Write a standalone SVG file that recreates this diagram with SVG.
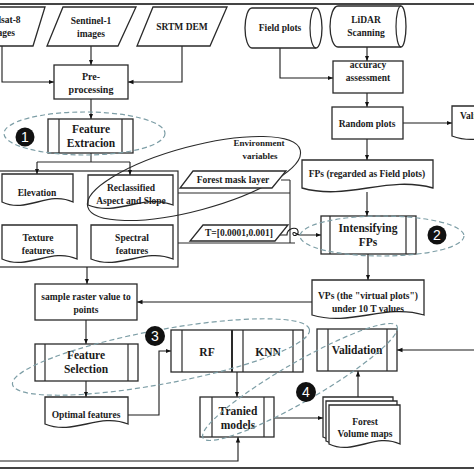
<svg xmlns="http://www.w3.org/2000/svg" width="474" height="474" viewBox="0 0 474 474">
<defs>
<marker id="ah" viewBox="0 0 10 10" refX="10" refY="5" markerWidth="5" markerHeight="5" orient="auto"><path d="M0,1 L10,5 L0,9 z" fill="#111"/></marker>
<style>
.b{fill:#fff;stroke:#2a2a2a;stroke-width:1.3}
.l{fill:none;stroke:#2a2a2a;stroke-width:1.2}
.c{fill:none;stroke:#2a2a2a;stroke-width:1.1}
.a{fill:none;stroke:#1a1a1a;stroke-width:1.1;marker-end:url(#ah)}
.e{fill:none;stroke:#7d9ea6;stroke-width:1.2;stroke-dasharray:5 3}
.t{font-family:"Liberation Serif","Times New Roman",serif;font-weight:bold;font-size:9.5px;fill:#1a1a1a;text-anchor:middle}
.tl{font-size:11.5px}
.n{fill:#111}
.nt{font-family:"Liberation Sans",Arial,sans-serif;font-size:14px;fill:#fff;text-anchor:middle}
.rule{stroke:#444;stroke-width:2}
</style>
</defs>
<rect width="474" height="474" fill="#fff"/>
<line class="rule" x1="0" y1="4" x2="474" y2="4"/>
<line class="rule" x1="0" y1="468" x2="474" y2="468"/>

<g id="feature-frame"><rect class="l" x="-1" y="171" width="179" height="96"/></g>

<g id="connectors">
<path class="a" d="M2,46 V82 H54"/>
<path class="a" d="M91,46 V65"/>
<path class="a" d="M182,46 V82 H128"/>
<path class="a" d="M91,99 V119"/>
<path class="c" d="M91,153 V162 M37,162 H130"/>
<path class="a" d="M37,162 V174"/>
<path class="a" d="M130,162 V175"/>
<path class="a" d="M87,267 V284"/>
<path class="c" d="M281,180 H290 M178,193 H290 M178,243 H295 M290,180 V243"/>
<path class="a" d="M280,235 H287 C287,228 297,226 298,231 C299,236 292,237 293,233 C294,231 297,235 300,235 H321"/>
<path class="a" d="M280,48 V78 H333"/>
<path class="a" d="M367,47 V61"/>
<path class="a" d="M367,93 V107"/>
<path class="a" d="M367,139 V160"/>
<path class="a" d="M403,123 H452"/>
<path class="a" d="M367,192 V216"/>
<path class="a" d="M368,254 V280"/>
<path class="a" d="M312,302 H137"/>
<path class="a" d="M86,320 V344"/>
<path class="a" d="M86,381 V397"/>
<path class="a" d="M128,415 H159 V351 H171"/>
<path class="a" d="M237,372 V397"/>
<path class="a" d="M274,418 H323"/>
<path class="a" d="M358,397 V371"/>
<path class="a" d="M474,350 H397"/>
<path class="a" d="M0,461 H238 V437"/>
</g>

<g id="landsat"><polygon class="b" points="-40,7 45,7 33,46 -50,46"/><text class="t" x="0" y="23">Landsat-8</text><text class="t" x="1" y="36">images</text></g>
<g id="sentinel"><polygon class="b" points="63,7 136,7 118,46 47,46"/><text class="t" x="91" y="24">Sentinel-1</text><text class="t" x="91" y="37">images</text></g>
<g id="srtm"><polygon class="b" points="153,7 227,7 210,46 137,46"/><text class="t" x="182" y="30">SRTM DEM</text></g>
<g id="preprocessing"><rect class="b" x="54" y="65" width="74" height="34"/><text class="t" x="91" y="80" style="font-size:10px">Pre-</text><text class="t" x="91" y="93" style="font-size:10px">processing</text></g>

<g id="feature-extraction"><rect class="b" x="48" y="119" width="85" height="34"/><path class="l" d="M59,119 V153 M122,119 V153"/><text class="t tl" x="91" y="133">Feature</text><text class="t tl" x="91" y="147">Extracion</text></g>

<g id="elevation"><path class="b" d="M2,174 H73 V202 C48,190 27,214 2,202 Z"/><text class="t" x="37" y="196">Elevation</text></g>
<g id="reclassified"><path class="b" d="M88,175 H173 V205 C143,193 118,217 88,205 Z"/><text class="t" x="131" y="191">Reclassified</text><text class="t" x="131" y="204">Aspect and Slope</text></g>
<g id="texture"><path class="b" d="M2,225 H77 V259 C51,247 28,271 2,259 Z"/><text class="t" x="38" y="241">Texture</text><text class="t" x="38" y="254">features</text></g>
<g id="spectral"><path class="b" d="M91,225 H173 V259 C144,247 120,271 91,259 Z"/><text class="t" x="132" y="241">Spectral</text><text class="t" x="132" y="254">features</text></g>

<g id="environment-variables"><ellipse class="c" cx="194" cy="178.5" rx="110" ry="32" transform="rotate(-15 194 178.5)"/><text class="t" x="259" y="146" style="font-size:9px">Environment</text><text class="t" x="260" y="159" style="font-size:9px">variables</text></g>
<g id="forest-mask"><polygon class="b" points="193,171 286,171 272,188 180,188"/><text class="t" x="233" y="183">Forest mask layer</text></g>
<g id="threshold"><polygon class="b" points="203,225 288,225 275,241 190,241"/><text class="t" x="239" y="236">T=[0.0001,0.001]</text></g>

<g id="field-plots"><path class="b" d="M252,8 H316 A6,20 0 0 1 316,48 H252 A7,20 0 0 1 252,8 Z"/><path class="l" d="M316,8 A6,20 0 0 0 316,48"/><text class="t" x="280" y="31">Field plots</text></g>
<g id="lidar"><path class="b" d="M338,6 H401 A5,20.5 0 0 1 401,47 H338 A8,20.5 0 0 1 338,6 Z"/><path class="l" d="M401,6 A5,20.5 0 0 0 401,47"/><text class="t" x="366" y="23">LiDAR</text><text class="t" x="366" y="36">Scanning</text></g>
<g id="accuracy"><rect class="b" x="333" y="61" width="70" height="32"/><text class="t" x="368" y="68">accuracy</text><text class="t" x="368" y="81">assessment</text></g>
<g id="random-plots"><rect class="b" x="332" y="107" width="71" height="32"/><text class="t" x="367" y="127">Random plots</text></g>
<g id="validation-plots"><path class="b" d="M452,106 H540 V136 C509,124 483,148 452,136 Z"/><text class="t" x="460" y="119" style="text-anchor:start">Validation</text></g>
<g id="fps"><path class="b" d="M302,160 H433 V188 C387,175 348,201 302,188 Z"/><text class="t" x="367" y="177">FPs (regarded as Field plots)</text></g>
<g id="intensifying"><rect class="b" x="321" y="216" width="95" height="38"/><path class="l" d="M330,216 V254 M406,216 V254"/><text class="t tl" x="368" y="232">Intensifying</text><text class="t tl" x="368" y="246">FPs</text></g>
<g id="vps"><path class="b" d="M312,280 H424 V315 C385,303 351,327 312,315 Z"/><text class="t" x="368" y="299">VPs (the "virtual plots")</text><text class="t" x="368" y="312">under 10 T values</text></g>

<g id="sample-raster"><rect class="b" x="35" y="284" width="102" height="36"/><text class="t" x="86" y="300">sample raster value to</text><text class="t" x="86" y="313">points</text></g>
<g id="feature-selection"><rect class="b" x="35" y="344" width="103" height="37"/><path class="l" d="M45,344 V381 M128,344 V381"/><text class="t tl" x="86" y="359">Feature</text><text class="t tl" x="86" y="373">Selection</text></g>
<g id="optimal-features"><path class="b" d="M45,397 H128 V424 C99,412 74,436 45,424 Z"/><text class="t" x="86" y="418">Optimal features</text></g>
<g id="rf-knn"><rect class="b" x="171" y="330" width="132" height="42"/><path class="l" d="M182,330 V372 M243,330 V372 M293,330 V372"/><path class="l" style="stroke-width:2" d="M232,330 V372"/><text class="t tl" x="207" y="356">RF</text><text class="t tl" x="268" y="356">KNN</text></g>
<g id="trained-models"><rect class="b" x="200" y="397" width="74" height="40"/><path class="l" d="M212,397 V437 M264,397 V437"/><text class="t tl" x="238" y="415">Tranied</text><text class="t tl" x="238" y="429">models</text></g>
<g id="forest-volume-maps"><path class="b" d="M323,397 H393 V437 C370,425 347,449 323,437 Z"/><path class="b" d="M326,401 H397 V441 C373,429 350,453 326,441 Z"/><path class="b" d="M329,405 H400 V444 C375,432 354,456 329,444 Z"/><text class="t" x="365" y="425">Forest</text><text class="t" x="365" y="437">Volume maps</text></g>
<g id="validation"><rect class="b" x="317" y="329" width="80" height="42"/><path class="l" d="M328,329 V371 M387,329 V371"/><text class="t tl" x="357" y="354">Validation</text></g>

<g id="highlights">
<ellipse class="e" cx="84.5" cy="133.5" rx="80.5" ry="21.5"/>
<ellipse class="e" cx="382" cy="236" rx="82" ry="20"/>
<ellipse class="e" cx="161" cy="357" rx="151" ry="27" transform="rotate(-10.5 161 357)"/>
<ellipse class="e" cx="300" cy="382" rx="112" ry="19.5" transform="rotate(-30 300 382)"/>
</g>
<g id="badge-1"><circle class="n" cx="25" cy="137" r="9.5"/><text class="nt" x="25" y="142">1</text></g>
<g id="badge-2"><circle class="n" cx="437" cy="235" r="9.5"/><text class="nt" x="437" y="240">2</text></g>
<g id="badge-3"><circle class="n" cx="155" cy="336" r="10"/><text class="nt" x="155" y="341">3</text></g>
<g id="badge-4"><circle class="n" cx="306" cy="392" r="10"/><text class="nt" x="306" y="397">4</text></g>
</svg>
